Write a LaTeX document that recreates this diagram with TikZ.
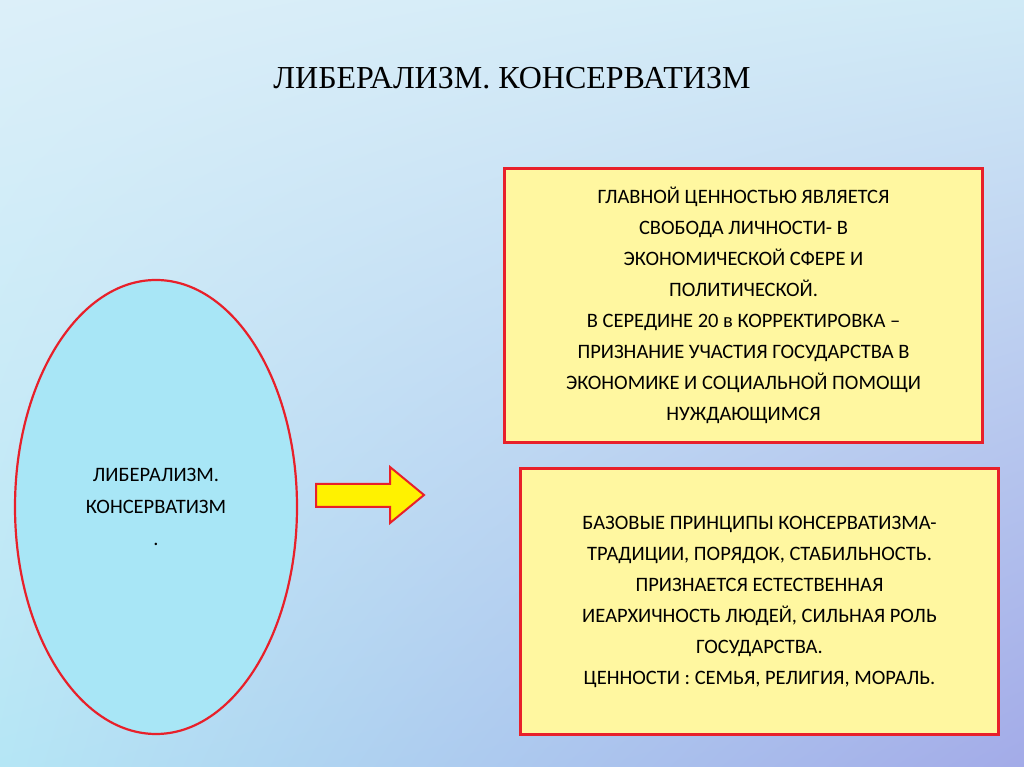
\documentclass[tikz,border=0pt]{standalone}
\usepackage{fontspec}
\setmainfont{Liberation Serif}
\newfontfamily\carlitofont{Carlito}
\usetikzlibrary{shapes.geometric,shadings}
\definecolor{bxfill}{HTML}{FFF7A0}
\definecolor{ellfill}{HTML}{A8E6F6}
\definecolor{redb}{HTML}{E8202A}
\definecolor{bgul}{HTML}{DCEFF9}
\definecolor{bgur}{HTML}{D0EAF6}
\definecolor{bgll}{HTML}{B5E6F5}
\definecolor{bglr}{HTML}{A3ABE8}
\tikzset{
 txtbox/.style={draw=redb,line width=2.2pt,fill=bxfill,minimum width=478pt,align=center,font=\carlitofont\fontsize{20.5}{31}\selectfont,inner sep=0pt},
}
\begin{document}
\begin{tikzpicture}[x=1pt,y=1pt]
\useasboundingbox (0,0) rectangle (1024,767);
\shade[upper left=bgul,upper right=bgur,lower left=bgll,lower right=bglr] (0,0) rectangle (1024,767);
\node (title) at (512,689) {\fontsize{32}{36}\selectfont ЛИБЕРАЛИЗМ. КОНСЕРВАТИЗМ};
\node[ellipse,draw=redb,line width=2.2pt,fill=ellfill,minimum width=282pt,minimum height=454pt,align=center,font=\carlitofont\fontsize{20.5}{32}\selectfont] (ell) at (156,260) {ЛИБЕРАЛИЗМ.\\КОНСЕРВАТИЗМ\\.};
\node[txtbox,minimum height=274pt] (b1) at (743.5,461.5) {ГЛАВНОЙ ЦЕННОСТЬЮ  ЯВЛЯЕТСЯ\\СВОБОДА ЛИЧНОСТИ- В\\ЭКОНОМИЧЕСКОЙ СФЕРЕ И\\ПОЛИТИЧЕСКОЙ.\\В СЕРЕДИНЕ 20 в КОРРЕКТИРОВКА –\\ПРИЗНАНИЕ  УЧАСТИЯ ГОСУДАРСТВА В\\ЭКОНОМИКЕ И СОЦИАЛЬНОЙ ПОМОЩИ\\НУЖДАЮЩИМСЯ};
\node[txtbox,minimum height=266pt] (b2) at (759.5,165.5) {БАЗОВЫЕ  ПРИНЦИПЫ КОНСЕРВАТИЗМА-\\ТРАДИЦИИ,  ПОРЯДОК, СТАБИЛЬНОСТЬ.\\ПРИЗНАЕТСЯ  ЕСТЕСТВЕННАЯ\\ИЕАРХИЧНОСТЬ  ЛЮДЕЙ,  СИЛЬНАЯ РОЛЬ\\ГОСУДАРСТВА.\\ЦЕННОСТИ :  СЕМЬЯ,  РЕЛИГИЯ,  МОРАЛЬ.};
\draw[draw=redb,line width=2pt,fill=yellow,line join=miter] (316,260) -- (316,283) -- (390,283) -- (390,300) -- (424,272) -- (390,244) -- (390,260) -- cycle;
\end{tikzpicture}
\end{document}
